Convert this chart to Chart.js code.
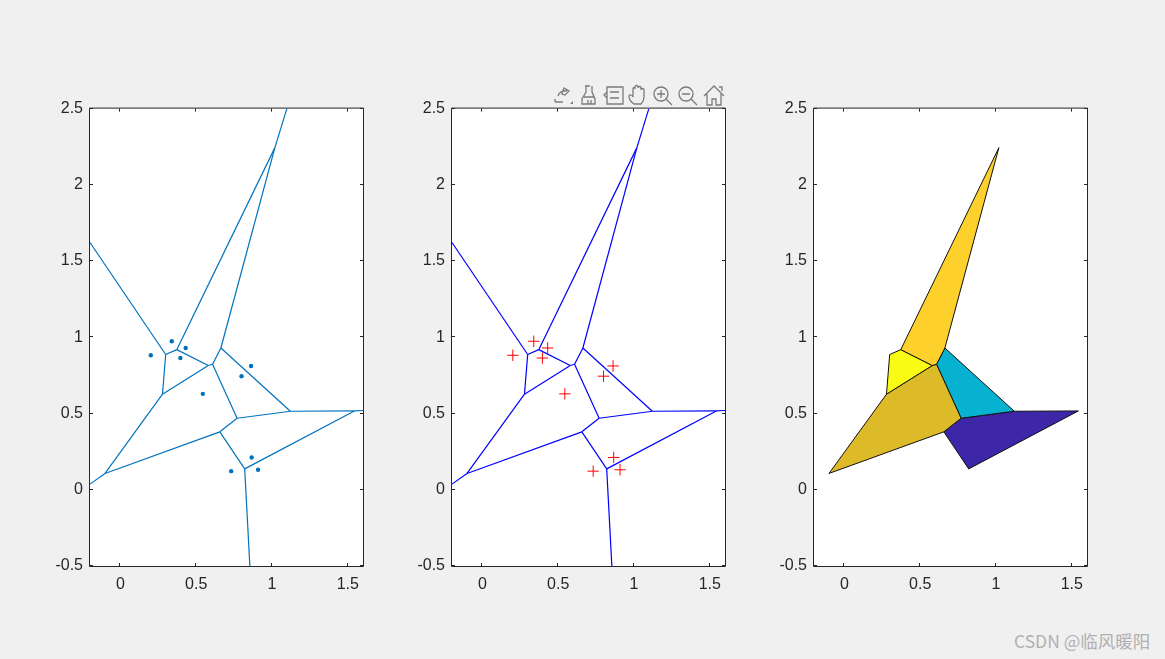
<!DOCTYPE html>
<html>
<head>
<meta charset="utf-8">
<title>Voronoi</title>
<script src="https://cdn.jsdelivr.net/npm/chart.js@4"></script>
<style>
  html, body { margin: 0; padding: 0; background: #f0f0f0; width: 1165px; height: 659px; overflow: hidden; }
  canvas { position: absolute; top: 92px; }
  #c1 { left: 39px; } #c2 { left: 401px; } #c3 { left: 763px; }
  #toolbar { position: absolute; left: 552px; top: 83px; z-index: 2; }
  #marca { position: absolute; left: 1014px; top: 628px; font: 17.5px "Noto Sans CJK SC", "Liberation Sans", sans-serif; color: #b0b0b0; white-space: nowrap; }
</style>
</head>
<body>
<canvas id="c1" width="334" height="508"></canvas>
<canvas id="c2" width="334" height="508"></canvas>
<canvas id="c3" width="334" height="508"></canvas>

<!-- barra de ferramentas do eixo central -->
<svg id="toolbar" width="174" height="24" fill="none" stroke="#7b7b7b" stroke-width="1.3">
  <path d="M3 19h8M3 19v-3M6 13c1-4 5-6 9-5M12 5l5 3-4 4-3-1z"/><path d="M18 21h3v-3z" fill="#7b7b7b" stroke="none"/>
  <path d="M33 3h5M34 3v6l-4 7v5h13v-5l-3-7V3M32 14h10M36 21v-4M39 21v-4"/>
  <path d="M55 4h16v17H55zM58 9h9M58 15h9"/><path d="M55 9l-3 3 3 3"/>
  <path d="M82 21c-3-2-5-5-5-8 0-2 3-1 4 1V6c0-2 2-2 2 0V4c0-2 3-2 3 0v1c0-2 3-2 3 0v2c0-2 3-2 3 0v7c0 3-1 5-3 7z"/>
  <circle cx="109" cy="11" r="7"/><path d="M114 16l6 6M105 11h8M109 7v8"/>
  <circle cx="134" cy="11" r="7"/><path d="M139 16l6 6M130 11h8"/>
  <path d="M152 13l10-10 10 10M155 11v11h5v-6h4v6h5V11M167 4h3v4"/>
</svg>

<div id="marca">CSDN @临风暖阳</div>

<script>
// limites e marcas dos eixos (iguais nos tres graficos)
const xMin = -0.2, xMax = 1.6;
const yMin = -0.5, yMax = 2.5;
const xTicks = [0, 0.5, 1, 1.5];
const yTicks = [-0.5, 0, 0.5, 1, 1.5, 2, 2.5];

// sementes
const semX = [0.339, 0.431, 0.396, 0.201, 0.544, 0.799, 0.862, 0.866, 0.908, 0.731];
const semY = [0.974, 0.930, 0.864, 0.882, 0.629, 0.745, 0.812, 0.212, 0.131, 0.122];

// vertices do diagrama (os ultimos sao as saidas pela borda dos eixos)
const vertX = [0.299, 0.372, 0.580, 0.608, 0.663, 1.121, 1.543, 0.770, 0.656, 0.820, -0.101, 0.278, 1.019, -0.2, 1.6, 1.098, 0.854, -0.2];
const vertY = [0.887, 0.919, 0.815, 0.823, 0.930, 0.515, 0.517, 0.469, 0.380, 0.137, 0.107, 0.627, 2.244, 0.037, 0.520, 2.5, -0.5, 1.622];

// arestas: pares de indices em vertX/vertY
const arestas = [
  [0, 1], [1, 2], [2, 3], [3, 4], [0, 11], [2, 11], [3, 7], [4, 5], [5, 7], [5, 6],
  [7, 8], [8, 9], [8, 10], [10, 11], [9, 6], [1, 12], [4, 12], [10, 13], [6, 14], [12, 15], [9, 16], [0, 17]
];

// poligonos limitados do terceiro grafico
const celulas = [
  [1, 2, 3, 4, 12],
  [0, 1, 2, 11],
  [11, 2, 3, 7, 8, 10],
  [3, 4, 5, 7],
  [7, 5, 6, 9, 8]
];
const coresCelulas = ["#fed02c", "#f9fb15", "#ddba28", "#07b2d0", "#3e26a8"];

function pontosSementes() {
  return semX.map((x, i) => ({ x: x, y: semY[i] }));
}

function datasetsArestas(cor) {
  return arestas.map(par => ({
    data: par.map(i => ({ x: vertX[i], y: vertY[i] })),
    showLine: true, borderColor: cor, borderWidth: 1.2, pointRadius: 0
  }));
}

function datasetsCelulas() {
  return celulas.map((idx, n) => ({
    data: idx.concat(idx[0]).map(i => ({ x: vertX[i], y: vertY[i] })),
    showLine: true, fill: "shape", backgroundColor: coresCelulas[n],
    borderColor: "#111111", borderWidth: 1, pointRadius: 0, tension: 0
  }));
}

// caixa do eixo com marcas para dentro nos quatro lados, estilo MATLAB
const caixaEixos = {
  id: "caixaEixos",
  afterDatasetsDraw(chart) {
    const { ctx, chartArea: a, scales } = chart;
    const tam = 3;
    ctx.save();
    ctx.strokeStyle = "#262626";
    ctx.lineWidth = 1;
    ctx.beginPath();
    ctx.rect(a.left - 0.5, a.top - 0.5, a.right - a.left + 1, a.bottom - a.top + 1);
    xTicks.forEach(v => {
      const p = Math.round(scales.x.getPixelForValue(v)) - 0.5;
      ctx.moveTo(p, a.bottom); ctx.lineTo(p, a.bottom - tam);
      ctx.moveTo(p, a.top); ctx.lineTo(p, a.top + tam);
    });
    yTicks.forEach(v => {
      const p = Math.round(scales.y.getPixelForValue(v)) - 0.5;
      ctx.moveTo(a.left, p); ctx.lineTo(a.left + tam, p);
      ctx.moveTo(a.right, p); ctx.lineTo(a.right - tam, p);
    });
    ctx.stroke();
    ctx.restore();
  }
};

function novoGrafico(id, datasets) {
  const fonte = { family: "'Liberation Sans', Arial, sans-serif", size: 16 };
  return new Chart(document.getElementById(id), {
    type: "scatter",
    data: { datasets: datasets },
    plugins: [caixaEixos],
    options: {
      responsive: false,
      animation: false,
      devicePixelRatio: 1,
      layout: { padding: { top: 3, right: 10, left: 0, bottom: 0 } },
      plugins: { legend: { display: false }, tooltip: { enabled: false } },
      scales: {
        x: {
          type: "linear", min: xMin, max: xMax,
          grid: { display: false, drawTicks: false }, border: { display: false },
          afterBuildTicks: s => { s.ticks = xTicks.map(v => ({ value: v })); },
          afterFit: s => { s.height = 34; },
          ticks: { color: "#262626", font: fonte, padding: 9, maxRotation: 0, callback: v => String(v) }
        },
        y: {
          type: "linear", min: yMin, max: yMax,
          grid: { display: false, drawTicks: false }, border: { display: false },
          afterBuildTicks: s => { s.ticks = yTicks.map(v => ({ value: v })); },
          afterFit: s => { s.width = 51; },
          ticks: { color: "#262626", font: fonte, padding: 7, callback: v => String(v) }
        }
      }
    }
  });
}

// fundo branco so na area dos eixos
Chart.register({
  id: "fundoEixos",
  beforeDraw(chart) {
    const { ctx, chartArea: a } = chart;
    ctx.save();
    ctx.fillStyle = "#ffffff";
    ctx.fillRect(a.left, a.top, a.right - a.left, a.bottom - a.top);
    ctx.restore();
  }
});

novoGrafico("c1", [
  { data: pontosSementes(), pointRadius: 2.2, pointBackgroundColor: "#0072bd", pointBorderColor: "#0072bd", borderWidth: 0 }
].concat(datasetsArestas("#0072bd")));

novoGrafico("c2", datasetsArestas("#0000ff").concat([
  { data: pontosSementes(), pointStyle: "cross", pointRadius: 5.7, pointBorderColor: "#ff0000", pointBorderWidth: 1, pointBackgroundColor: "#ff0000" }
]));

novoGrafico("c3", datasetsCelulas());
</script>
</body>
</html>
